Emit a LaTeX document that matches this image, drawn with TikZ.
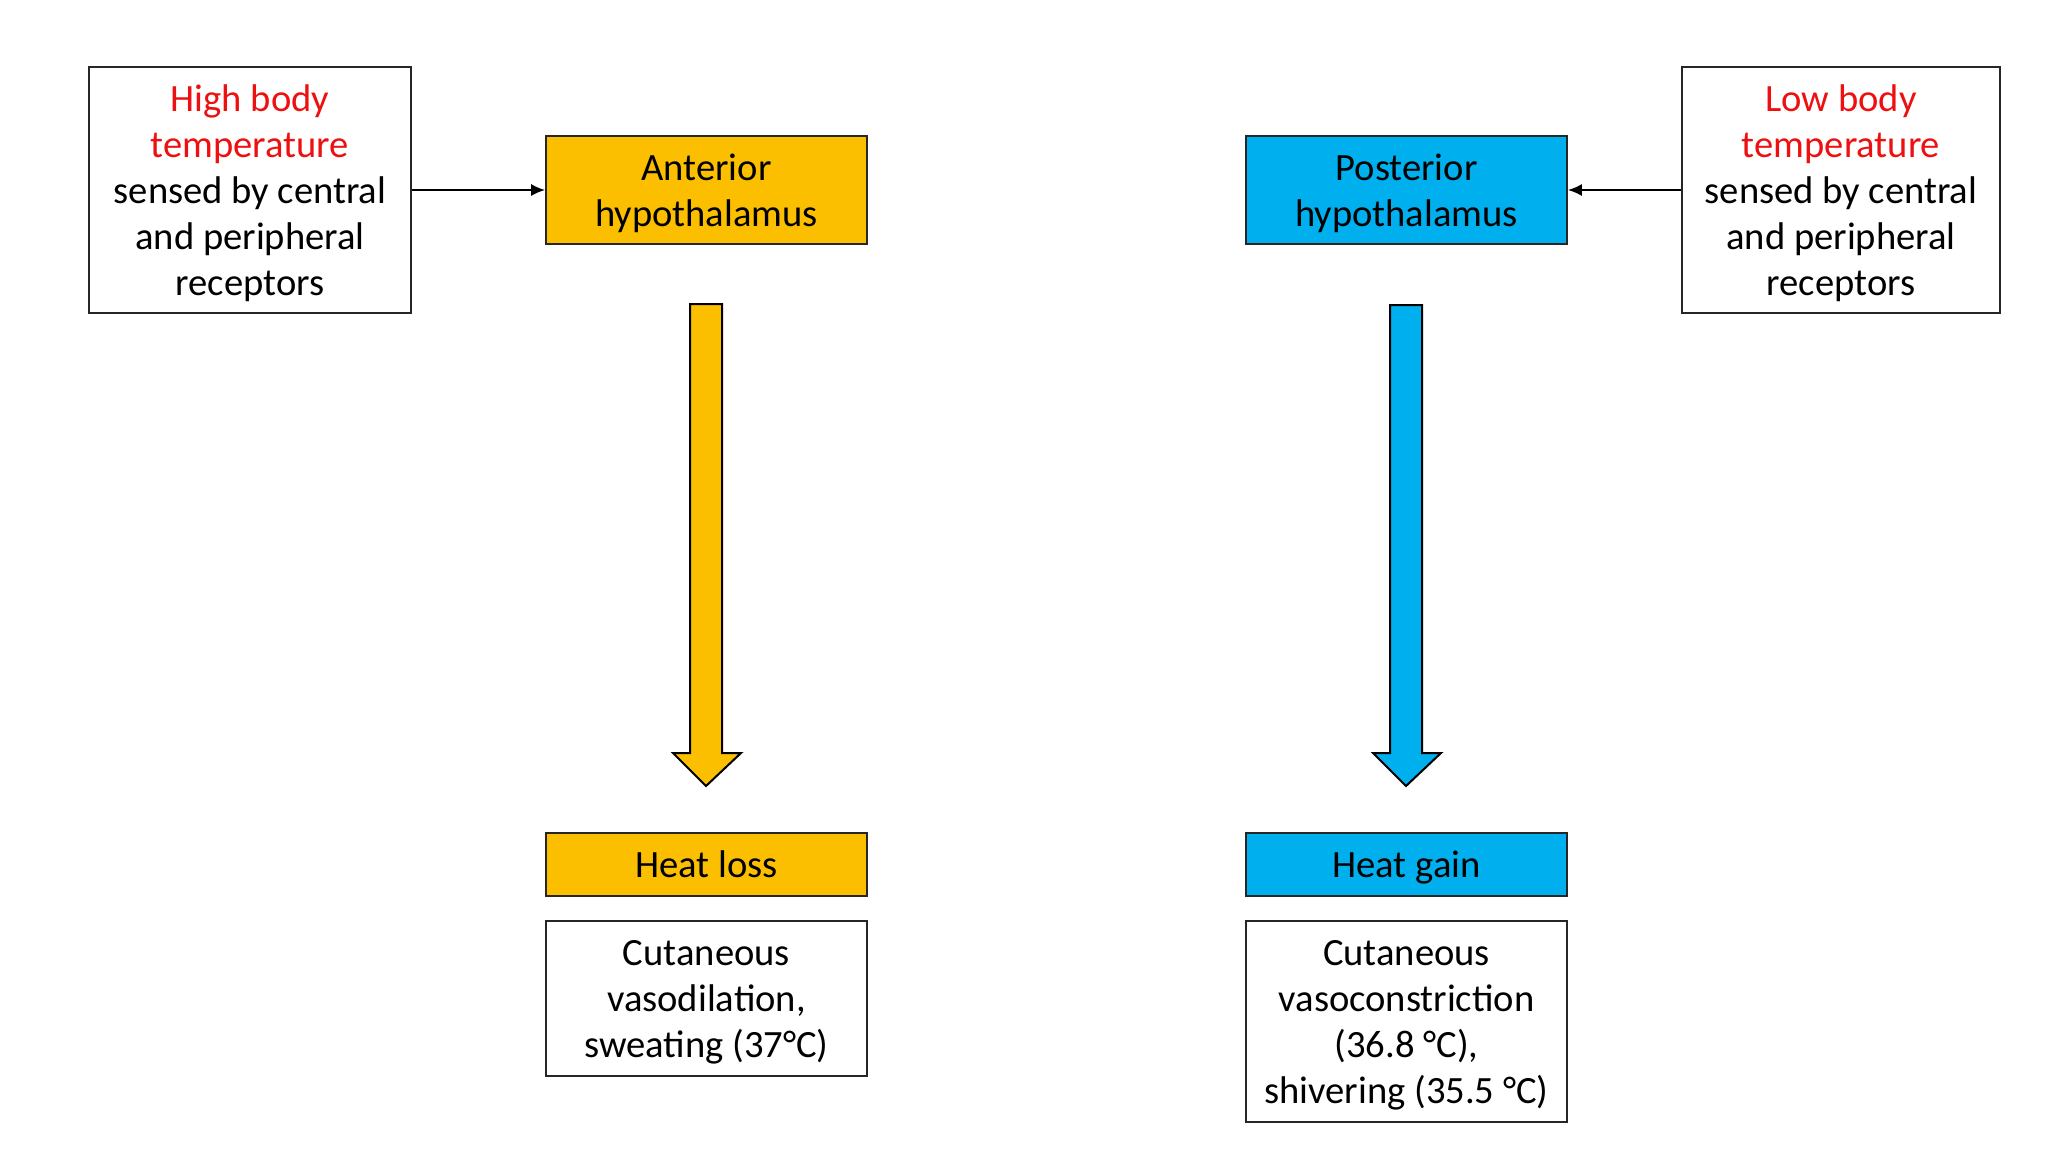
\documentclass[tikz,border=0pt]{standalone}
\usepackage{fontspec}
\setmainfont{Carlito}
\usetikzlibrary{arrows.meta}
\definecolor{warm}{HTML}{FBBF00}
\definecolor{cool}{HTML}{00B0EE}
\definecolor{hot}{HTML}{EE1010}
\tikzset{
  box/.style={draw=black!85, line width=1.6pt, align=center, inner sep=0pt, text depth=0pt, font=\fontsize{38.6}{46}\selectfont},
  link/.style={draw=black, line width=2pt, -{Latex[length=14pt,width=12pt]}},
  bigarrow/.style={draw=black, line width=2pt, line join=miter}
}
\begin{document}
\begin{tikzpicture}[x=1pt,y=-1pt]
\useasboundingbox (0,0) rectangle (2048,1152);
\node[box, minimum width=322pt, minimum height=246pt] (high) at (250,190) {\textcolor{hot}{High body}\\\textcolor{hot}{temperature}\\sensed by central\\and peripheral\\receptors};
\node[box, fill=warm, minimum width=321pt, minimum height=108pt] (ant) at (706.5,190) {Anterior\\hypothalamus};
\node[box, fill=cool, minimum width=321pt, minimum height=108pt] (post) at (1406.5,190) {Posterior\\hypothalamus};
\node[box, minimum width=318pt, minimum height=246pt] (low) at (1841,190) {\textcolor{hot}{Low body}\\\textcolor{hot}{temperature}\\sensed by central\\and peripheral\\receptors};
\node[box, fill=warm, minimum width=321pt, minimum height=63pt] (loss) at (706.5,864.5) {Heat loss};
\node[box, fill=cool, minimum width=321pt, minimum height=63pt] (gain) at (1406.5,864.5) {Heat gain};
\node[box, minimum width=321pt, minimum height=155pt] (vdil) at (706.5,998.5) {Cutaneous\\vasodilation,\\sweating (37°C)};
\node[box, minimum width=321pt, minimum height=201pt] (vcon) at (1406.5,1021.5) {Cutaneous\\vasoconstriction\\(36.8 °C),\\shivering (35.5 °C)};
\draw[link] (high.east) -- (ant.west);
\draw[link] (low.west) -- (post.east);
\draw[bigarrow, fill=warm] (690,304) -- (722,304) -- (722,753) -- (741,753) -- (706,786) -- (673,753) -- (690,753) -- cycle;
\draw[bigarrow, fill=cool] (1390,305) -- (1422,305) -- (1422,753) -- (1441,753) -- (1406,786) -- (1373,753) -- (1390,753) -- cycle;
\end{tikzpicture}
\end{document}
